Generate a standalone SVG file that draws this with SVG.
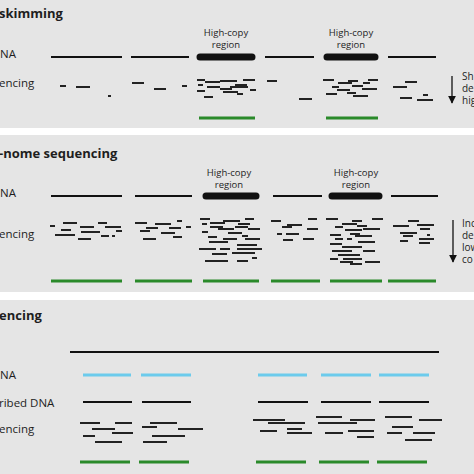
<svg xmlns="http://www.w3.org/2000/svg" width="474" height="474" viewBox="0 0 474 474">
<style>
.bg{fill:#e5e5e5}
.t{font-family:"Open Sans","Noto Sans","Liberation Sans",sans-serif;fill:#1e1e1e}
.title{font-size:13px;font-weight:bold}
.lab{font-size:11.5px}
.hc{font-size:9.5px;text-anchor:middle}
.side{font-size:10px}
.g{stroke:#111;stroke-width:2;fill:none}
.thick{stroke:#111;stroke-width:7;stroke-linecap:round;fill:none}
.r{stroke:#222;stroke-width:2;fill:none}
.gr{stroke:#2a8a2a;stroke-width:3;fill:none}
.cy{stroke:#6ccbec;stroke-width:3;fill:none}
.ar{stroke:#111;stroke-width:1.3;fill:none}
</style>
<defs>
<marker id="ah" viewBox="0 0 10 10" refX="9" refY="5" markerWidth="6" markerHeight="6" orient="auto"><path d="M0,0L10,5L0,10z" fill="#111"/></marker>
</defs>
<rect x="0" y="0" width="474" height="474" fill="#ffffff"/>
<rect class="bg" x="0" y="0" width="474" height="128"/>
<rect class="bg" x="0" y="135" width="474" height="157"/>
<rect class="bg" x="0" y="300" width="474" height="174"/>

<g id="panel1">
<text class="t title" x="-1" y="18">skimming</text>
<text class="t lab" x="0" y="58">NA</text>
<text class="t lab" x="-1" y="87">encing</text>
<text class="t hc" x="226" y="36">High-copy</text>
<text class="t hc" x="226" y="48">region</text>
<text class="t hc" x="351" y="36">High-copy</text>
<text class="t hc" x="351" y="48">region</text>
<g id="genome1">
<path class="g" d="M51,57H122M131,57H189M265,57H314M388,57H436"/>
<path class="thick" d="M200,57H252M327,57H375"/>
</g>
<path class="r" d="M60,86H66M76,87H90M108,96H111M132,83H144M154,89H166M182,86H187M197,80H205M205,82H220M220,81H237M243,80H255M198,85H203M207,87H220M220,89H232M235,85H247M230,87H248M197,91H205M223,92H238M237,94H243M204,97H213M250,90H256M267,81H277M299,99H312M323,80H334M338,83H352M348,81H358M363,83H370M368,80H378M332,87H339M337,90H350M352,86H363M362,89H377M326,94H337M347,93H356M353,96H368M393,87H407M405,82H417M400,98H412M423,95H428M417,100H433"/>
<path class="gr" d="M199,118H255M326,118H378"/>
<line class="ar" x1="452" y1="76" x2="452" y2="103" marker-end="url(#ah)"/>
<text class="t side" x="462" y="80">Sh</text>
<text class="t side" x="462" y="92">de</text>
<text class="t side" x="462" y="104">hig</text>
</g>

<g id="panel2">
<text class="t title" x="-1" y="158">-nome sequencing</text>
<text class="t lab" x="0" y="197">NA</text>
<text class="t lab" x="-1" y="238">encing</text>
<text class="t hc" x="229" y="176">High-copy</text>
<text class="t hc" x="229" y="188">region</text>
<text class="t hc" x="356" y="176">High-copy</text>
<text class="t hc" x="356" y="188">region</text>
<g id="genome2">
<path class="g" d="M51,196H122M135,196H192M273,196H322M391,196H438"/>
<path class="thick" d="M206,196H256M332,196H379"/>
</g>
<path class="r" d="M50,226H55M63,223H77M61,230H71M55,235H75M80,227H94M81,232H100M78,239H91M98,223H107M105,227H121M101,236H109M112,236H115M116,231H122M135,223H147M140,231H150M146,228H158M155,224H171M177,221H182M169,228H181M186,227H191M161,233H175M173,237H182M143,239H156"/>
<path class="r" d="M200,219H210M223,221H240M245,219H254M202,224H207M210,223H225M238,224H250M210,227H223M218,229H234M235,227H248M248,229H260M202,232H208M228,233H242M208,237H217M223,239H237M242,236H248M245,239H260M209,242H228M237,245H257M199,249H216M220,249H230M237,249H262M212,254H227M232,253H255M205,261H228M237,261H248M252,258H257"/>
<path class="r" d="M271,221H281M308,219H317M282,227H292M287,225H302M307,229H318M277,234H282M286,234H299M283,240H293M303,239H314"/>
<path class="r" d="M326,219H338M352,221H362M372,219H383M342,224H357M335,227H343M357,226H367M345,230H362M363,229H380M330,235H341M350,234H360M355,236H372M335,239H343M347,239H352M358,242H375M330,244H342M342,247H362M332,251H352M363,251H375M338,255H360M330,259H338M343,259H362M365,262H380M340,262H353M350,264H362"/>
<path class="r" d="M408,221H419M393,226H409M417,225H434M420,229H430M400,233H417M427,235H430M403,236H413M419,239H434M400,241H408M419,243H430"/>
<path class="gr" d="M51,281H122M135,281H192M203,281H259M271,281H320M330,281H382M388,281H436"/>
<line class="ar" x1="453" y1="220" x2="453" y2="262" marker-end="url(#ah)"/>
<text class="t side" x="462" y="227">Inc</text>
<text class="t side" x="462" y="239">de</text>
<text class="t side" x="462" y="251">low</text>
<text class="t side" x="462" y="263">co</text>
</g>

<g id="panel3">
<text class="t title" x="-1" y="320">encing</text>
<text class="t lab" x="0" y="379">NA</text>
<text class="t lab" x="-1" y="407">ribed DNA</text>
<text class="t lab" x="-1" y="433">encing</text>
<path class="g" d="M70,352H439"/>
<path class="cy" d="M83,375H131M141,375H191M258,375H307M321,375H371M379,375H429"/>
<path class="g" d="M83,402H132M142,402H191M258,402H308M321,402H371M379,402H429"/>
<path class="r" d="M80,423H100M115,423H132M92,429H115M112,433H133M83,436H95M95,442H122M150,423H177M142,427H157M178,429H203M152,436H185M143,442H167"/>
<path class="r" d="M253,420H285M268,423H305M260,431H277M287,429H302M287,433H312M316,417H342M318,423H357M350,420H375M325,433H343M348,431H374M357,437H374M385,417H412M392,427H413M387,433H402M413,433H435M419,420H442M405,440H432"/>
<path class="gr" d="M80,462H130M139,462H189M256,462H306M319,462H369M377,462H427"/>
</g>
</svg>
